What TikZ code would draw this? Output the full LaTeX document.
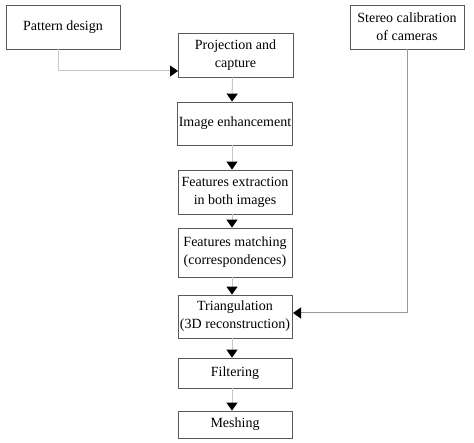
\documentclass[tikz,border=0pt]{standalone}
\usepackage{fontspec}
\setmainfont{Liberation Serif}
\usetikzlibrary{arrows.meta}
\begin{document}
\begin{tikzpicture}[x=1pt,y=-1pt,
  box/.style={draw=black!65,line width=0.8pt,align=center,inner sep=1pt,
    font=\fontsize{14}{18}\selectfont,minimum width=114pt},
  conn/.style={draw=black!22,line width=1pt,-{Triangle[length=8pt,width=11pt,color=black]}},
  connd/.style={conn,draw=black!40}]
\useasboundingbox (0,0) rectangle (474,443);
\fill[white] (0,0) rectangle (474,443);
\node[box,minimum height=44pt] (pat) at (63,27) {Pattern design};
\node[box,minimum height=44pt,minimum width=115pt] (proj) at (235.5,55) {Projection and\\capture};
\node[box,minimum height=43pt] (enh) at (235,123.5) {Image enhancement};
\node[box,minimum height=44pt] (ext) at (235,192) {Features extraction\\in both images};
\node[box,minimum height=49pt] (mat) at (235,252.5) {Features matching\\(correspondences)};
\node[box,minimum height=43pt] (tri) at (235,316.5) {Triangulation\\(3D reconstruction)};
\node[box,minimum height=30pt] (fil) at (235,373) {Filtering};
\node[box,minimum height=27pt] (mes) at (235,424.5) {Meshing};
\node[box,minimum height=44pt] (st) at (407,27) {Stereo calibration\\of cameras};
\coordinate (pin) at (178,71);
\coordinate (tin) at (293,313);
\draw[conn] ([xshift=-5pt]pat.south) |- (pin);
\draw[connd] (st.south) |- (tin);
\draw[conn] ([xshift=-3pt]proj.south) -- ([xshift=-3pt]enh.north);
\draw[conn] ([xshift=-3pt]enh.south) -- ([xshift=-3pt]ext.north);
\draw[conn] ([xshift=-3pt]ext.south) -- ([xshift=-3pt]mat.north);
\draw[conn] ([xshift=-3pt]mat.south) -- ([xshift=-3pt]tri.north);
\draw[conn] ([xshift=-3pt]tri.south) -- ([xshift=-3pt]fil.north);
\draw[conn] ([xshift=-3pt]fil.south) -- ([xshift=-3pt]mes.north);
\end{tikzpicture}
\end{document}
